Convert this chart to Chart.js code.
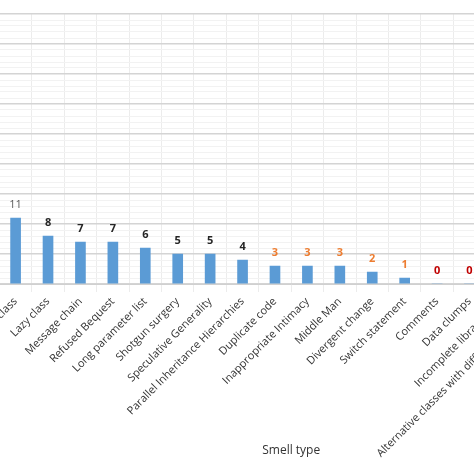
<!DOCTYPE html>
<html>
<head>
<script src="https://cdn.jsdelivr.net/npm/chart.js@4"></script>
<style>
  body { margin: 0; overflow: hidden; background: #fff; }
  #wrap { position: absolute; left: -27px; top: 0; width: 610px; height: 474px; }
</style>
</head>
<body>
<div id="wrap"><canvas id="c"></canvas></div>
<script>
const smells = ["Large class", "Lazy class", "Message chain", "Refused Bequest", "Long parameter list",
  "Shotgun surgery", "Speculative Generality", "Parallel Inheritance Hierarchies", "Duplicate code",
  "Inappropriate Intimacy", "Middle Man", "Divergent change", "Switch statement", "Comments",
  "Data clumps", "Incomplete library class", "Alternative classes with different interfaces", "Data class"];
const counts = [11, 8, 7, 7, 6, 5, 5, 4, 3, 3, 3, 2, 1, 0, 0, 0, 0, 0];

function labelColor(v) {
  if (v === 11) return '#595959';
  if (v >= 4) return '#262626';
  if (v >= 1) return '#ED7D31';
  return '#C00000';
}

const valueLabels = {
  id: 'valueLabels',
  afterDatasetsDraw(chart) {
    const ctx = chart.ctx;
    const meta = chart.getDatasetMeta(0);
    ctx.save();
    ctx.textAlign = 'center';
    ctx.textBaseline = 'bottom';
    meta.data.forEach((bar, i) => {
      ctx.fillStyle = labelColor(counts[i]);
      ctx.font = (counts[i] === 11 ? '' : 'bold ') + '11px "Open Sans"';
      ctx.fillText(counts[i], bar.x, bar.y - 8);
    });
    ctx.restore();
  }
};

new Chart(document.getElementById('c'), {
  type: 'bar',
  data: {
    labels: smells,
    datasets: [{
      data: counts,
      backgroundColor: '#5B9BD5',
      barThickness: 10
    }]
  },
  plugins: [valueLabels],
  options: {
    responsive: true,
    maintainAspectRatio: false,
    animation: false,
    layout: { padding: { top: 14, bottom: 12, left: 0, right: 0 } },
    plugins: { legend: { display: false }, tooltip: { enabled: false } },
    scales: {
      x: {
        offset: true,
        afterFit(scale) { scale.height = 178; },
        grid: { color: '#ececec', offset: true },
        border: { color: '#d0d0d0' },
        ticks: {
          autoSkip: false, maxRotation: 45, minRotation: 45,
          color: '#333', font: { family: 'Open Sans', size: 11 }
        },
        title: { display: true, text: 'Smell type', color: '#333', font: { family: 'Open Sans', size: 12 } }
      },
      y: {
        display: true,
        min: 0, max: 45,
        afterFit(scale) { scale.width = 0; },
        ticks: { display: false, stepSize: 1 },
        border: { display: false },
        grid: {
          color: c => (c.tick.value % 5 === 0 ? '#d4d4d4' : '#f2f2f2'),
          lineWidth: c => (c.tick.value % 5 === 0 ? 1.5 : 1),
          drawTicks: false
        }
      }
    }
  }
});
</script>
</body>
</html>
